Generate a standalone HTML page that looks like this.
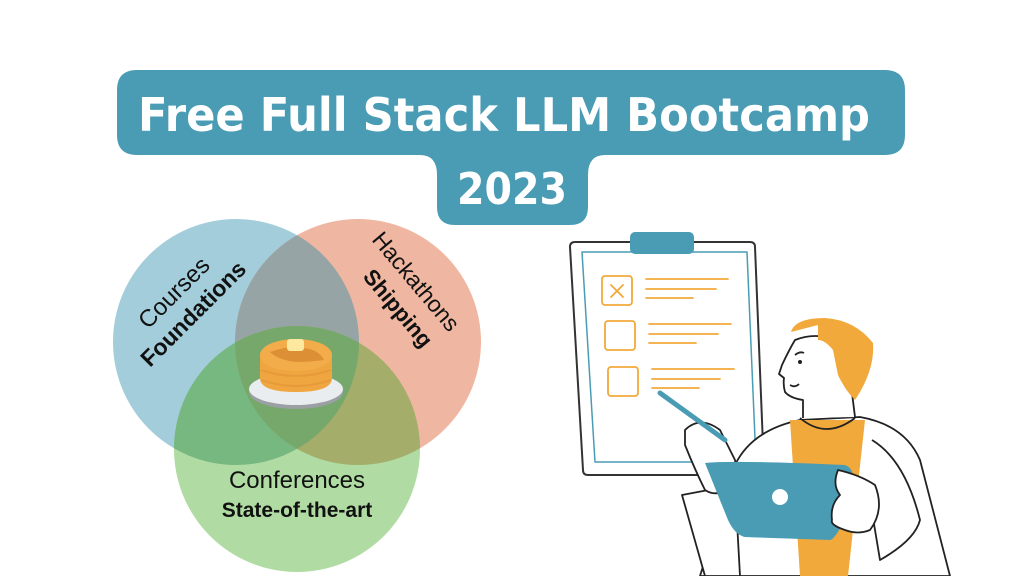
<!DOCTYPE html>
<html><head><meta charset="utf-8"><style>
html,body{margin:0;padding:0;background:#fff;width:1024px;height:576px;overflow:hidden}
</style></head><body>
<svg width="1024" height="576" viewBox="0 0 1024 576" xmlns="http://www.w3.org/2000/svg">
<rect width="1024" height="576" fill="#fff"/>
<!-- title -->
<path d="M137 70 H885 Q905 70 905 90 V135 Q905 155 885 155 H605 Q588 155 588 175 V207 Q588 225 570 225 H455 Q437 225 437 207 V175 Q437 155 420 155 H137 Q117 155 117 135 V90 Q117 70 137 70 Z" fill="#4a9cb5"/>
<text x="504" y="131" text-anchor="middle" font-family="DejaVu Sans, sans-serif" font-weight="bold" font-size="46" fill="#fff" textLength="732" lengthAdjust="spacingAndGlyphs">Free Full Stack LLM Bootcamp</text>
<text x="512" y="204" text-anchor="middle" font-family="DejaVu Sans, sans-serif" font-weight="bold" font-size="44" fill="#fff" textLength="110" lengthAdjust="spacingAndGlyphs">2023</text>
<!-- venn -->
<g>
<circle cx="236" cy="342" r="123" fill="#a3cddb"/>
<circle cx="358" cy="342" r="123" fill="#eca991" opacity="0.85"/>
<circle cx="297" cy="449" r="123" fill="#95d084" opacity="0.75"/>
</g>
<clipPath id="br"><circle cx="236" cy="342" r="123"/></clipPath>
<circle cx="358" cy="342" r="123" fill="#97a4a6" clip-path="url(#br)"/>
<g clip-path="url(#br)"><circle cx="297" cy="449" r="123" fill="#76b880"/></g>
<clipPath id="rr"><circle cx="358" cy="342" r="123"/></clipPath>
<g clip-path="url(#rr)"><circle cx="297" cy="449" r="123" fill="#a4ad69"/></g>
<g clip-path="url(#br)"><g clip-path="url(#rr)"><circle cx="297" cy="449" r="123" fill="#77a86b"/></g></g>
<!-- labels -->
<g font-family="Liberation Sans, sans-serif" fill="#111">
<text transform="translate(148,330) rotate(-45)" font-size="24">Courses</text>
<text transform="translate(150,368) rotate(-45)" font-size="23" font-weight="bold">Foundations</text>
<text transform="translate(371,240) rotate(50)" font-size="23">Hackathons</text>
<text transform="translate(362,277) rotate(50)" font-size="22" font-weight="bold">Shipping</text>
<text x="297" y="488" text-anchor="middle" font-size="24">Conferences</text>
<text x="297" y="517" text-anchor="middle" font-size="21" font-weight="bold">State-of-the-art</text>
</g>
<!-- pancake -->
<ellipse cx="296" cy="392" rx="47" ry="17" fill="#9aa0a4"/>
<ellipse cx="296" cy="389" rx="47" ry="16" fill="#e9edf0"/>
<path d="M260 355 V378 Q260 392 296 392 Q332 392 332 378 V355 Z" fill="#f0a640"/>
<ellipse cx="296" cy="355" rx="36" ry="16" fill="#f2ad4a"/>
<path d="M270 352 Q290 345 300 348 Q318 348 324 360 Q310 362 296 362 Q278 360 270 352Z" fill="#dd8f36"/>
<rect x="287" y="339" width="17" height="12" rx="3" fill="#fde8a0"/>
<path d="M261 370 Q296 382 331 370" stroke="#e69a3a" stroke-width="2" fill="none"/>
<path d="M261 380 Q296 392 331 380" stroke="#e69a3a" stroke-width="2" fill="none"/>
<!-- clipboard -->
<g stroke-linejoin="round" stroke-linecap="round">
<path d="M575 242 H750 Q755 242 755 247 L764 470 Q764 475 759 475 H588 Q583 475 583 470 L570 247 Q570 242 575 242Z" fill="#fff" stroke="#333" stroke-width="2"/>
<path d="M582 252 H747 L756 462 H595 Z" fill="#fff" stroke="#4a9cb5" stroke-width="1.5"/>
<rect x="630" y="232" width="64" height="22" rx="5" fill="#4a9cb5"/>
<g stroke="#f2a93b" stroke-width="1.8" fill="none">
<rect x="602" y="276" width="30" height="29" rx="3"/>
<path d="M611 285 L623 297 M623 285 L611 297"/>
<rect x="605" y="321" width="30" height="29" rx="3"/>
<rect x="608" y="367" width="30" height="29" rx="3"/>
<path d="M646 279 H728 M646 289 H716 M646 298 H693"/>
<path d="M649 324 H731 M649 334 H718 M649 343 H696"/>
<path d="M652 369 H734 M652 379 H720 M652 388 H699"/>
</g>
</g>
<!-- person -->
<g stroke="#222" stroke-width="1.8" fill="#fff" stroke-linejoin="round">
<path d="M700 576 L735 465 Q752 430 800 420 L860 417 Q905 425 920 460 L950 576 Z"/>
<path d="M790 420 L800 576 L848 576 L865 420 Z" fill="#f2a93b" stroke="none"/>
<path d="M800 418 Q826 440 855 418" fill="none"/>
<path d="M803 418 V400 Q790 398 785 392 Q783 385 784 378 L779 374 L782 365 Q789 350 795 340 Q820 330 846 345 L855 417" fill="#fff"/>
<path d="M791 332 Q795 318 825 318 Q855 320 873 343 Q875 370 855 400 Q845 390 838 375 L833 350 Q825 340 818 340 L818 325 Z" fill="#f2a93b" stroke="none"/>
<circle cx="800" cy="362" r="2" fill="#222" stroke="none"/>
<path d="M795 355 Q800 351 804 353" fill="none"/>
<path d="M790 385 Q795 388 799 384" fill="none"/>
<path d="M682 495 L735 485 L740 576 H705 Z"/>
<path d="M685 430 Q700 415 720 430 L735 460 L738 480 Q720 500 705 490 Q695 470 685 445 Z"/>
<path d="M872 440 Q905 460 920 520 Q915 540 880 560 L870 500" />
<path d="M705 463 Q730 460 845 465 Q860 470 850 510 Q835 540 830 540 Q770 538 745 537 Q735 535 728 520 Z" fill="#4a9cb5" stroke="none"/>
<circle cx="780" cy="497" r="8" fill="#fff" stroke="none"/>
<path d="M838 470 Q860 475 875 485 Q885 510 870 530 Q858 535 845 530 Q830 525 832 520 Q830 505 840 495 Q832 485 838 470Z"/>
</g>
<path d="M660 393 L725 440" stroke="#4a9cb5" stroke-width="5" stroke-linecap="round"/>
</svg>
</body></html>
